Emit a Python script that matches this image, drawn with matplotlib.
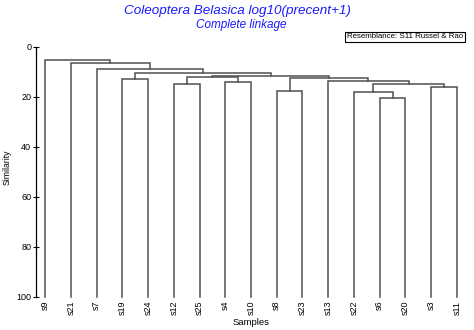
import numpy as np
import matplotlib.pyplot as plt

plt.rcParams['font.family'] = ['Liberation Sans', 'DejaVu Sans']

# hojas en el orden del dendrograma
labels = ['s9', 's21', 's7', 's19', 's24', 's12', 's25', 's4', 's10',
          's8', 's23', 's13', 's22', 's6', 's20', 's3', 's11']

# uniones: hijos (0..16 hojas, 17.. uniones anteriores) y similitud
merge_left = [13, 12, 9, 15, 5, 18, 7, 11, 3, 19, 21, 27, 25, 2, 1, 0]
merge_right = [14, 17, 10, 16, 6, 20, 8, 22, 4, 24, 23, 26, 28, 29, 30, 31]
merge_height = [20.6, 18.0, 17.9, 16.2, 15.0, 14.9, 14.3, 13.6,
                13.0, 12.4, 12.1, 11.7, 10.4, 9.0, 6.7, 5.3]

yticks = [0, 20, 40, 60, 80, 100]

n = len(labels)
node_x = list(range(n))
node_h = [100.0] * n

fig = plt.figure(figsize=(4.74, 3.30), dpi=100)
ax = fig.add_axes([36 / 474, 33.3 / 330, 430 / 474, 250 / 330])

line_col = '#505050'
for l, r, h in zip(merge_left, merge_right, merge_height):
    xl, xr = node_x[l], node_x[r]
    hl, hr = node_h[l], node_h[r]
    ax.plot([xl, xl, xr, xr], [hl, h, h, hr], color=line_col, lw=1.1,
            solid_joinstyle='miter', clip_on=False)
    node_x.append((xl + xr) / 2)
    node_h.append(h)

ax.set_xlim(-0.35, n - 1 + 0.35)
ax.set_ylim(100, 0)
ax.set_yticks(yticks)
ax.set_yticklabels([str(t) for t in yticks], fontsize=6.5)
ax.tick_params(axis='y', direction='inout', length=5, width=0.8, pad=1)
ax.set_xticks(range(n))
ax.set_xticklabels(labels, rotation=90, fontsize=6.5, va='top')
ax.tick_params(axis='x', length=0, pad=3)

for s in ['top', 'right', 'bottom']:
    ax.spines[s].set_visible(False)
ax.spines['left'].set_linewidth(0.9)

fig.text(7 / 474, 1 - 167 / 330, 'Similarity', fontsize=6.2,
         rotation=90, ha='center', va='center')
ax.set_xlabel('Samples', fontsize=6.8, labelpad=2)

fig.text(237 / 474, 1 - 11 / 330, 'Coleoptera Belasica log10(precent+1)',
         color='#1a1aff', style='italic', fontsize=9.7, ha='center', va='center')
fig.text(241 / 474, 1 - 25 / 330, 'Complete linkage',
         color='#1a1aff', style='italic', fontsize=8.5, ha='center', va='center')
fig.text(405 / 474, 1 - 37 / 330, 'Resemblance: S11 Russel & Rao',
         fontsize=5.7, ha='center', va='center',
         bbox=dict(boxstyle='square,pad=0.25', fc='white', ec='black', lw=0.8))

fig.savefig('out.png', dpi=100)
